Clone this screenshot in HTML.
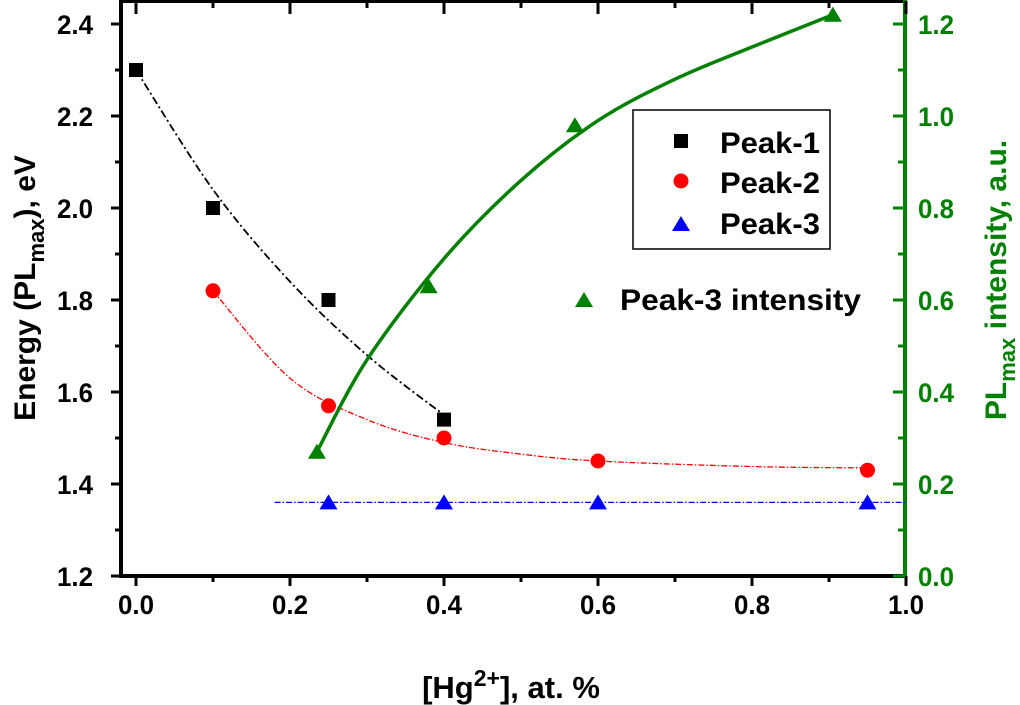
<!DOCTYPE html>
<html><head><meta charset="utf-8"><style>
body{margin:0;background:#fff}
svg{display:block;font-family:"Liberation Sans",Arial,sans-serif;font-weight:bold}
</style></head><body>
<svg id="c" width="1020" height="705"></svg>
<script>
const peak1X=[0,0.1,0.25,0.4], peak1Y=[2.30,2.00,1.80,1.54];
const peak2X=[0.1,0.25,0.4,0.6,0.95], peak2Y=[1.82,1.57,1.50,1.45,1.43];
const peak3X=[0.25,0.4,0.6,0.95], peak3Y=[1.36,1.36,1.36,1.36];
const intX=[0.235,0.38,0.57,0.905], intY=[0.27,0.63,0.98,1.22];
const fit1X=[0,0.1,0.2,0.3,0.4], fit1Y=[2.30,2.04,1.84,1.68,1.55];
const fit2X=[0.1,0.2,0.3,0.4,0.5,0.6,0.8,0.95], fit2Y=[1.82,1.63,1.54,1.49,1.465,1.45,1.438,1.435];
const fit3X=[0.18,1.0], fit3Y=[1.36,1.36];
const fitIX=[0.235,0.3,0.4,0.5,0.6,0.7,0.8,0.905], fitIY=[0.27,0.47,0.69,0.86,0.99,1.08,1.15,1.22];
const xTicks=[0,0.2,0.4,0.6,0.8,1.0], yTicks=[1.2,1.4,1.6,1.8,2.0,2.2,2.4], y2Ticks=[0,0.2,0.4,0.6,0.8,1.0,1.2];
const sx=v=>136+v*770, sy=v=>576-(v-1.2)*460, sy2=v=>576-v*460;
const L=121,R=905,T=1,B=576;
const svg=document.getElementById('c');const NS='http://www.w3.org/2000/svg';
function mk(t,a,p){const e=document.createElementNS(NS,t);for(const k in a)e.setAttribute(k,a[k]);(p||svg).appendChild(e);return e;}
function smooth(xs,ys,fy){const p=xs.map((x,i)=>[sx(x),fy(ys[i])]);let d='M'+p[0];for(let i=0;i<p.length-1;i++){const p0=p[i-1]||p[i],p1=p[i],p2=p[i+1],p3=p[i+2]||p2;d+=`C${p1[0]+(p2[0]-p0[0])/6},${p1[1]+(p2[1]-p0[1])/6} ${p2[0]-(p3[0]-p1[0])/6},${p2[1]-(p3[1]-p1[1])/6} ${p2[0]},${p2[1]}`;}return d;}
let e=mk('path',{d:`M${L},${B}V${T}H${R}`,fill:'none',stroke:'#000','stroke-width':4});

e=mk('line',{x1:L-2,y1:B,x2:R,y2:B,stroke:'#000','stroke-width':4});

e=mk('line',{x1:R,y1:T-2,x2:R,y2:B+2,stroke:'#008000','stroke-width':4});

for(let i=0;i<=10;i++){const v=i/10,x=sx(v),big=i%2==0;
 mk('line',{x1:x,y1:B,x2:x,y2:B+(big?10:6),stroke:'#000','stroke-width':3});
 mk('line',{x1:x,y1:T,x2:x,y2:T+(big?13:7),stroke:'#000','stroke-width':3});}
xTicks.forEach(v=>{e=mk('text',{x:sx(v),y:614,'text-anchor':'middle','font-size':27,textLength:36,lengthAdjust:'spacingAndGlyphs'});e.textContent=v.toFixed(1);
});
for(let i=0;i<13;i++){const v=1.2+i*0.1,y=sy(v),big=i%2==0;mk('line',{x1:L,y1:y,x2:L-(big?10:6),y2:y,stroke:'#000','stroke-width':3});}
yTicks.forEach(v=>{e=mk('text',{x:93,y:sy(v)+10,'text-anchor':'end','font-size':27,textLength:36,lengthAdjust:'spacingAndGlyphs'});e.textContent=v.toFixed(1);
});
for(let i=0;i<13;i++){const v=i*0.1,y=sy2(v),big=i%2==0;mk('line',{x1:R,y1:y,x2:R-(big?12:7),y2:y,stroke:'#008000','stroke-width':3});}
y2Ticks.forEach(v=>{e=mk('text',{x:918,y:sy2(v)+10,'font-size':27,fill:'#008000',textLength:36,lengthAdjust:'spacingAndGlyphs'});e.textContent=v.toFixed(1);
});
e=mk('path',{d:smooth(fit1X,fit1Y,sy),fill:'none',stroke:'#000','stroke-width':1.8,'stroke-dasharray':'8 3 2 3'});

e=mk('path',{d:smooth(fit2X,fit2Y,sy),fill:'none',stroke:'#f00','stroke-width':1.3,'stroke-dasharray':'6 2 1.5 2'});

e=mk('path',{d:smooth(fit3X,fit3Y,sy),fill:'none',stroke:'#00f','stroke-width':1.3,'stroke-dasharray':'6 2 1.5 2'});

e=mk('path',{d:smooth(fitIX,fitIY,sy2),fill:'none',stroke:'#008000','stroke-width':3.5});

function sq(x,y,c){return mk('rect',{x:x-7,y:y-7,width:14,height:14,fill:c});}
function ci(x,y,c){return mk('circle',{cx:x,cy:y,r:7.5,fill:c});}
function tr(x,y,c){return mk('path',{d:`M${x},${y-8}L${x+9},${y+7}L${x-9},${y+7}Z`,fill:c});}
peak1X.forEach((v,i)=>{e=sq(sx(v),sy(peak1Y[i]),'#000');});
peak2X.forEach((v,i)=>{e=ci(sx(v),sy(peak2Y[i]),'#f00');});
peak3X.forEach((v,i)=>{e=tr(sx(v),sy(peak3Y[i]),'#00f');});
intX.forEach((v,i)=>{e=tr(sx(v),sy2(intY[i]),'#008000');});
e=mk('rect',{x:633,y:110,width:197,height:139,fill:'#fff',stroke:'#000','stroke-width':1.5});

[['Peak-1',sq,'#000',141,153],['Peak-2',ci,'#f00',181,193],['Peak-3',tr,'#00f',224,234]].forEach(([t,f,c,y,by])=>{
 e=f(681,y,c);
 e=mk('text',{x:720,y:by,'font-size':30,textLength:100,lengthAdjust:'spacingAndGlyphs'});e.textContent=t;});
e=tr(584,300,'#008000');
e=mk('text',{x:620,y:310,'font-size':30,textLength:241,lengthAdjust:'spacingAndGlyphs'});e.textContent='Peak-3 intensity';
e=mk('text',{x:511,y:698,'text-anchor':'middle','font-size':31});e.innerHTML='[Hg<tspan dy="-12" font-size="23">2+</tspan><tspan dy="12">], at. %</tspan>';

e=mk('text',{x:0,y:0,'text-anchor':'middle','font-size':30,transform:'translate(35,288) rotate(-90)'});e.innerHTML='Energy (PL<tspan dy="9" font-size="22">max</tspan><tspan dy="-9">), eV</tspan>';

e=mk('text',{x:0,y:0,'text-anchor':'middle','font-size':30,fill:'#008000',transform:'translate(1006,280) rotate(-90)'});e.innerHTML='PL<tspan dy="9" font-size="22">max</tspan><tspan dy="-9"> intensity, a.u.</tspan>';

</script>
</body></html>
